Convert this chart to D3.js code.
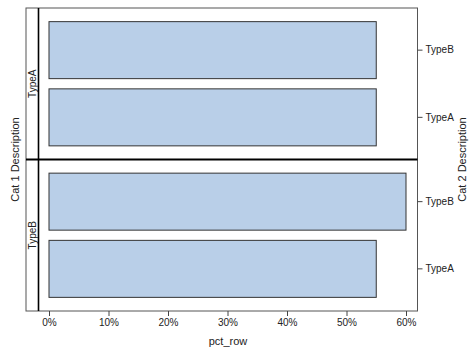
<!DOCTYPE html>
<html>
<head>
<meta charset="utf-8">
<script src="https://cdn.jsdelivr.net/npm/d3@7"></script>
<style>
  body { margin: 0; background: #fff; }
  text { font-family: "Liberation Sans", Arial, sans-serif; fill: #222; }
</style>
</head>
<body>
<svg id="chart" width="474" height="355"></svg>
<script>
// panels (Cat 1) and rows inside each panel (Cat 2), top to bottom
var cat1 = ["TypeA", "TypeB"];
var cat2 = ["TypeB", "TypeA"];
// pct_row values, one array per Cat 1 panel, in cat2 order
var pctTypeA = [55, 55];
var pctTypeB = [60, 55];
var xTicks = [0, 10, 20, 30, 40, 50, 60];

var values = { TypeA: pctTypeA, TypeB: pctTypeB };

var frame = { left: 26, right: 417.5, top: 8, bottom: 311 };
var stripW = 12.5;

var svg = d3.select("#chart");

var xScale = d3.scaleLinear()
    .domain([0, 60])
    .range([49, 406]);

var panelScale = d3.scaleBand()
    .domain(cat1)
    .range([frame.top, frame.bottom]);

// outer frame
svg.append("rect")
    .attr("x", frame.left).attr("y", frame.top)
    .attr("width", frame.right - frame.left)
    .attr("height", frame.bottom - frame.top)
    .attr("fill", "none")
    .attr("stroke", "#555")
    .attr("stroke-width", 1);

cat1.forEach(function(c1) {
    var y0 = panelScale(c1), y1 = y0 + panelScale.bandwidth();

    var yScale = d3.scaleBand()
        .domain(cat2)
        .range([y0, y1])
        .paddingInner(0.152)
        .paddingOuter(0.203);

    var rows = cat2.map(function(c2, i) { return { c2: c2, v: values[c1][i] }; });

    svg.append("g").selectAll("rect")
        .data(rows)
      .enter().append("rect")
        .attr("x", xScale(0))
        .attr("y", function(d) { return yScale(d.c2); })
        .attr("width", function(d) { return xScale(d.v) - xScale(0); })
        .attr("height", yScale.bandwidth())
        .attr("fill", "#b9cfe8")
        .attr("stroke", "#333")
        .attr("stroke-width", 1);

    // right axis for this panel
    var yAxis = d3.axisRight(yScale).tickSize(5).tickPadding(3);
    var gy = svg.append("g")
        .attr("transform", "translate(" + frame.right + ",0)")
        .call(yAxis);
    gy.select(".domain").remove();
    gy.selectAll("line").attr("stroke", "#444");
    gy.selectAll("text").style("font-size", "10px").attr("fill", "#222")
        .style("font-family", "'Liberation Sans', Arial, sans-serif");

    // strip label
    svg.append("text")
        .attr("transform", "translate(" + (frame.left + stripW / 2 + 3.5) + "," + ((y0 + y1) / 2) + ") rotate(-90)")
        .attr("text-anchor", "middle")
        .style("font-size", "10px")
        .text(c1);
});

// strip column line and panel separator
svg.append("line")
    .attr("x1", frame.left + stripW).attr("x2", frame.left + stripW)
    .attr("y1", frame.top).attr("y2", frame.bottom)
    .attr("stroke", "#000").attr("stroke-width", 1.6);

svg.append("line")
    .attr("x1", frame.left).attr("x2", frame.right)
    .attr("y1", panelScale("TypeB")).attr("y2", panelScale("TypeB"))
    .attr("stroke", "#000").attr("stroke-width", 2);

// bottom axis
var xAxis = d3.axisBottom(xScale)
    .tickValues(xTicks)
    .tickFormat(function(d) { return d + "%"; })
    .tickSize(5)
    .tickPadding(3);

var gx = svg.append("g")
    .attr("transform", "translate(0," + frame.bottom + ")")
    .call(xAxis);
gx.select(".domain").remove();
gx.selectAll("line").attr("stroke", "#444");
gx.selectAll("text").style("font-size", "10px").attr("fill", "#222")
    .style("font-family", "'Liberation Sans', Arial, sans-serif");

// axis titles
svg.append("text")
    .attr("x", 228).attr("y", 345)
    .attr("text-anchor", "middle")
    .style("font-size", "11px")
    .text("pct_row");

svg.append("text")
    .attr("transform", "translate(19,159.5) rotate(-90)")
    .attr("text-anchor", "middle")
    .style("font-size", "11px")
    .text("Cat 1 Description");

svg.append("text")
    .attr("transform", "translate(466,159.5) rotate(-90)")
    .attr("text-anchor", "middle")
    .style("font-size", "11px")
    .text("Cat 2 Description");
</script>
</body>
</html>
